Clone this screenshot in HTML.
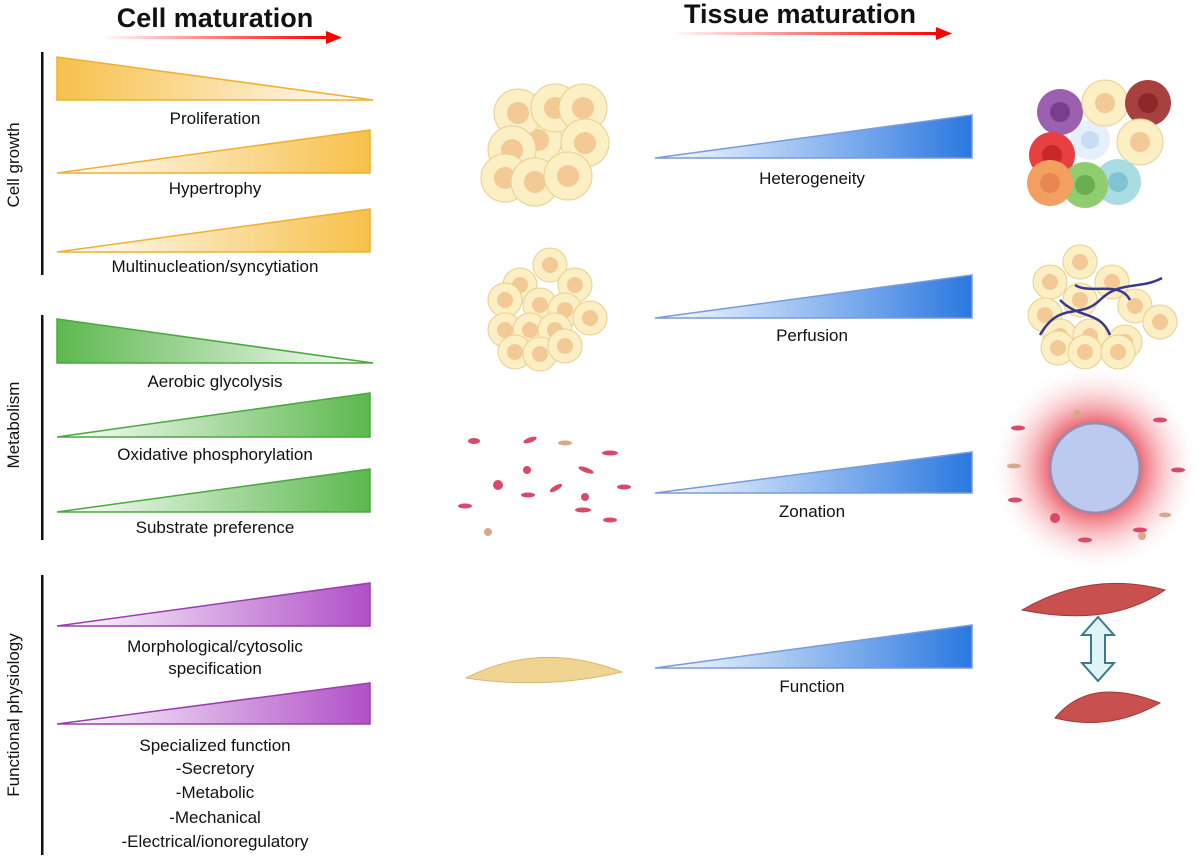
<!DOCTYPE html>
<html><head><meta charset="utf-8"><style>
body{margin:0;background:#fff}
svg{display:block}
text{font-family:"Liberation Sans",sans-serif;fill:#111}
.l{font-size:17px;text-anchor:middle}
</style></head><body>
<svg width="1200" height="857" viewBox="0 0 1200 857" xmlns="http://www.w3.org/2000/svg">
<defs>
<linearGradient id="ra" x1="0" x2="1"><stop offset="0" stop-color="#f00" stop-opacity="0"/><stop offset="1" stop-color="#f00"/></linearGradient>
<linearGradient id="yd" x1="0" x2="1"><stop offset="0" stop-color="#f7c04a"/><stop offset="1" stop-color="#fff"/></linearGradient>
<linearGradient id="yu" x1="0" x2="1"><stop offset="0" stop-color="#fff"/><stop offset="1" stop-color="#f7c04a"/></linearGradient>
<linearGradient id="gd" x1="0" x2="1"><stop offset="0" stop-color="#5cb84e"/><stop offset="1" stop-color="#fff"/></linearGradient>
<linearGradient id="gu" x1="0" x2="1"><stop offset="0" stop-color="#fff"/><stop offset="1" stop-color="#5cb84e"/></linearGradient>
<linearGradient id="pu" x1="0" x2="1"><stop offset="0" stop-color="#fff"/><stop offset="1" stop-color="#b050c8"/></linearGradient>
<linearGradient id="bu" x1="0" x2="1"><stop offset="0" stop-color="#fff"/><stop offset="1" stop-color="#2a78e0"/></linearGradient>
<radialGradient id="glow"><stop offset="0.4" stop-color="#e83040" stop-opacity="0.8"/><stop offset="1" stop-color="#fff" stop-opacity="0"/></radialGradient>
<g id="c"><circle r="24" fill="#fcefc4" stroke="#e8cf90" stroke-width="1"/><circle r="11" fill="#f3c995"/></g>
<g id="s"><circle r="17" fill="#fcefc4" stroke="#e8cf90" stroke-width="1"/><circle r="8" fill="#f3c995"/></g>
</defs>

<text x="215" y="27" font-size="27" font-weight="bold" text-anchor="middle">Cell maturation</text>
<rect x="100" y="36" width="228" height="3" fill="url(#ra)"/><polygon points="326,31 342,37.5 326,44" fill="#f00"/>
<text x="800" y="23" font-size="27" font-weight="bold" text-anchor="middle">Tissue maturation</text>
<rect x="670" y="32" width="268" height="3" fill="url(#ra)"/><polygon points="936,27 952,33.5 936,40" fill="#f00"/>

<rect x="41" y="52" width="2.5" height="223" fill="#111"/>
<rect x="41" y="315" width="2.5" height="225" fill="#111"/>
<rect x="41" y="575" width="2.5" height="280" fill="#111"/>
<text transform="translate(19,165) rotate(-90)" font-size="17" text-anchor="middle">Cell growth</text>
<text transform="translate(19,425) rotate(-90)" font-size="17" text-anchor="middle">Metabolism</text>
<text transform="translate(19,715) rotate(-90)" font-size="17" text-anchor="middle">Functional physiology</text>

<g stroke-width="1.5">
<polygon points="57,57 57,100 373,100" fill="url(#yd)" stroke="#f0b030"/>
<polygon points="57,173 370,130 370,173" fill="url(#yu)" stroke="#f0b030"/>
<polygon points="57,252 370,209 370,252" fill="url(#yu)" stroke="#f0b030"/>
<polygon points="57,319 57,363 373,363" fill="url(#gd)" stroke="#4aa83e"/>
<polygon points="57,437 370,393 370,437" fill="url(#gu)" stroke="#4aa83e"/>
<polygon points="57,512 370,469 370,512" fill="url(#gu)" stroke="#4aa83e"/>
<polygon points="57,626 370,583 370,626" fill="url(#pu)" stroke="#9a3eae"/>
<polygon points="57,724 370,683 370,724" fill="url(#pu)" stroke="#9a3eae"/>
<polygon points="655,158 972,115 972,158" fill="url(#bu)" stroke="#7a9ad8"/>
<polygon points="655,318 972,275 972,318" fill="url(#bu)" stroke="#7a9ad8"/>
<polygon points="655,493 972,452 972,493" fill="url(#bu)" stroke="#7a9ad8"/>
<polygon points="655,668 972,625 972,668" fill="url(#bu)" stroke="#7a9ad8"/>
</g>

<text class="l" x="215" y="124">Proliferation</text>
<text class="l" x="215" y="194">Hypertrophy</text>
<text class="l" x="215" y="272">Multinucleation/syncytiation</text>
<text class="l" x="215" y="387">Aerobic glycolysis</text>
<text class="l" x="215" y="460">Oxidative phosphorylation</text>
<text class="l" x="215" y="533">Substrate preference</text>
<text class="l" x="215" y="652">Morphological/cytosolic</text>
<text class="l" x="215" y="674">specification</text>
<text class="l" x="215" y="751">Specialized function</text>
<text class="l" x="215" y="774">-Secretory</text>
<text class="l" x="215" y="798">-Metabolic</text>
<text class="l" x="215" y="823">-Mechanical</text>
<text class="l" x="215" y="847">-Electrical/ionoregulatory</text>
<text class="l" x="812" y="184">Heterogeneity</text>
<text class="l" x="812" y="341">Perfusion</text>
<text class="l" x="812" y="517">Zonation</text>
<text class="l" x="812" y="692">Function</text>

<!-- cluster 1 -->
<use href="#c" x="538" y="140"/>
<use href="#c" x="518" y="113"/><use href="#c" x="555" y="108"/><use href="#c" x="583" y="108"/>
<use href="#c" x="512" y="150"/><use href="#c" x="585" y="143"/>
<use href="#c" x="505" y="178"/><use href="#c" x="535" y="182"/><use href="#c" x="568" y="176"/>
<!-- cluster 2 -->
<use href="#s" x="550" y="265"/><use href="#s" x="520" y="285"/><use href="#s" x="575" y="285"/>
<use href="#s" x="505" y="300"/><use href="#s" x="540" y="305"/><use href="#s" x="565" y="310"/><use href="#s" x="590" y="318"/>
<use href="#s" x="505" y="330"/><use href="#s" x="530" y="330"/><use href="#s" x="555" y="330"/>
<use href="#s" x="515" y="352"/><use href="#s" x="540" y="354"/><use href="#s" x="565" y="346"/>
<!-- hetero cluster -->
<circle cx="1090" cy="140" r="20" fill="#e6f0fc"/><circle cx="1090" cy="140" r="9" fill="#c8dcf6"/>
<circle cx="1060" cy="112" r="23" fill="#9b60b0"/><circle cx="1060" cy="112" r="10" fill="#7a3e90"/>
<circle cx="1105" cy="103" r="23" fill="#fcefc4" stroke="#e8cf90"/><circle cx="1105" cy="103" r="10" fill="#f3c995"/>
<circle cx="1148" cy="103" r="23" fill="#a84040"/><circle cx="1148" cy="103" r="10" fill="#8c2828"/>
<circle cx="1052" cy="155" r="23" fill="#e84040"/><circle cx="1052" cy="155" r="10" fill="#c82828"/>
<circle cx="1140" cy="142" r="23" fill="#fcefc4" stroke="#e8cf90"/><circle cx="1140" cy="142" r="10" fill="#f3c995"/>
<circle cx="1118" cy="182" r="23" fill="#aadce4"/><circle cx="1118" cy="182" r="10" fill="#80c4d4"/>
<circle cx="1085" cy="185" r="23" fill="#90cc70"/><circle cx="1085" cy="185" r="10" fill="#6aae50"/>
<circle cx="1050" cy="183" r="23" fill="#f2a060"/><circle cx="1050" cy="183" r="10" fill="#e88850"/>
<!-- perfusion cluster -->
<use href="#s" x="1080" y="262"/><use href="#s" x="1050" y="282"/><use href="#s" x="1112" y="282"/>
<use href="#s" x="1045" y="315"/><use href="#s" x="1080" y="300"/><use href="#s" x="1135" y="306"/><use href="#s" x="1160" y="322"/>
<use href="#s" x="1060" y="336"/><use href="#s" x="1090" y="336"/><use href="#s" x="1125" y="342"/>
<use href="#s" x="1058" y="348"/><use href="#s" x="1085" y="352"/><use href="#s" x="1118" y="352"/>
<path d="M1040,335 C1060,300 1080,320 1100,300 S1140,290 1162,278 M1060,300 C1080,320 1100,310 1110,335 M1075,285 C1090,295 1120,280 1130,300" stroke="#3a3a8a" stroke-width="2.5" fill="none"/>
<!-- zonation left scattered -->
<g fill="#d84a6a">
<ellipse cx="474" cy="441" rx="6" ry="3"/><ellipse cx="530" cy="440" rx="7" ry="2.5" transform="rotate(-20 530 440)"/>
<ellipse cx="610" cy="453" rx="8" ry="2.5"/><ellipse cx="586" cy="470" rx="8" ry="2.5" transform="rotate(20 586 470)"/>
<ellipse cx="465" cy="506" rx="7" ry="2.5"/><ellipse cx="528" cy="495" rx="7" ry="2.5"/>
<ellipse cx="556" cy="488" rx="7" ry="2.5" transform="rotate(-30 556 488)"/><ellipse cx="624" cy="487" rx="7" ry="2.5"/>
<ellipse cx="583" cy="510" rx="8" ry="2.5"/><ellipse cx="610" cy="520" rx="7" ry="2.5"/>
<circle cx="498" cy="485" r="5"/><circle cx="527" cy="470" r="4"/><circle cx="585" cy="497" r="4"/>
</g>
<ellipse cx="565" cy="443" rx="7" ry="2.5" fill="#d8a88a"/><circle cx="488" cy="532" r="4" fill="#d8a88a"/>
<!-- zonation right -->
<circle cx="1095" cy="468" r="105" fill="url(#glow)"/>
<circle cx="1095" cy="468" r="45" fill="#bccaf0" stroke="#a08aa8" stroke-width="3"/>
<g fill="#d84a6a"><ellipse cx="1018" cy="428" rx="7" ry="2.5"/><ellipse cx="1160" cy="420" rx="7" ry="2.5"/><ellipse cx="1015" cy="500" rx="7" ry="2.5"/><ellipse cx="1178" cy="470" rx="7" ry="2.5"/><ellipse cx="1085" cy="540" rx="7" ry="2.5"/><circle cx="1055" cy="518" r="5"/><ellipse cx="1140" cy="530" rx="7" ry="2.5"/></g>
<g fill="#d8a88a"><ellipse cx="1014" cy="466" rx="7" ry="2.5"/><circle cx="1077" cy="414" r="4"/><circle cx="1142" cy="536" r="4"/><ellipse cx="1165" cy="515" rx="6" ry="2.5"/></g>
<!-- function -->
<path d="M466,678 Q540,640 622,672 Q545,690 466,678 Z" fill="#f0d592" stroke="#d8b870"/>
<path d="M1022,610 Q1090,570 1165,590 Q1110,628 1022,610 Z" fill="#c8504e" stroke="#a03838"/>
<path d="M1055,718 Q1090,675 1160,703 Q1110,732 1055,718 Z" fill="#c8504e" stroke="#a03838"/>
<polygon points="1098,617 1114,635 1105,635 1105,663 1114,663 1098,681 1082,663 1091,663 1091,635 1082,635" fill="#e0f4f8" stroke="#3a7a8a" stroke-width="2"/>
</svg>
</body></html>
